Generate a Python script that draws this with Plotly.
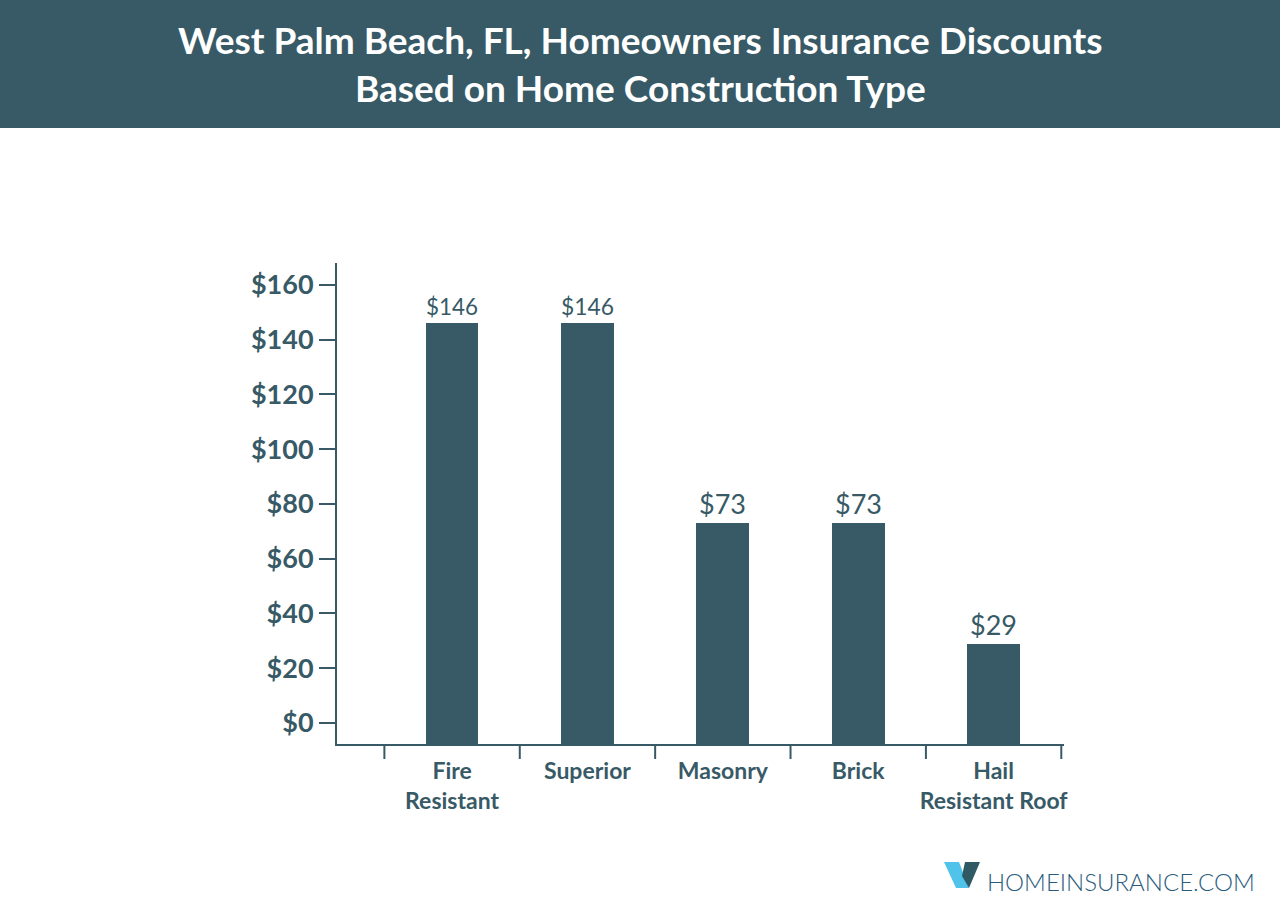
import plotly.graph_objects as go

# ---- data ----
categories = ["Fire<br>Resistant", "Superior", "Masonry", "Brick", "Hail<br>Resistant Roof"]
discounts = [146, 146, 73, 73, 29]
y_tick_values = [0, 20, 40, 60, 80, 100, 120, 140, 160]
y_tick_labels = ["$0", "$20", "$40", "$60", "$80", "$100", "$120", "$140", "$160"]
title_lines = ["West Palm Beach, FL, Homeowners Insurance Discounts",
               "Based on Home Construction Type"]

# ---- style ----
TEAL = "#375a66"
Y_MIN, Y_MAX = -7.7, 168
X_MIN, X_MAX = -0.85, 4.52
W, H = 1280, 904
ML, MR, MT, MB = 337, 216, 263, 160
PW, PH = W - ML - MR, H - MT - MB


def px_x(x):
    return (x - ML) / PW


def px_y(y):
    return 1 - (y - MT) / PH


fig = go.Figure()
fig.add_trace(go.Bar(
    x=list(range(len(categories))),
    y=[v - Y_MIN for v in discounts],
    base=Y_MIN,
    width=0.39,
    marker=dict(color=TEAL, line=dict(width=0)),
    text=[f"${v}" for v in discounts],
    textposition="outside",
    cliponaxis=False,
    textfont=dict(family="Lato", size=27, color=TEAL),
    hoverinfo="skip",
))

fig.update_layout(
    width=W, height=H,
    margin=dict(l=ML, r=MR, t=MT, b=MB),
    paper_bgcolor="white", plot_bgcolor="white",
    showlegend=False,
    bargap=0,
    xaxis=dict(
        range=[X_MIN, X_MAX],
        tickmode="array",
        tickvals=list(range(len(categories))),
        ticktext=categories,
        showgrid=False, zeroline=False,
        showline=True, linecolor=TEAL, linewidth=2,
        ticks="",
        ticklabelstandoff=5,
        tickfont=dict(family="Lato", size=23, color=TEAL, weight="bold"),
        fixedrange=True,
    ),
    yaxis=dict(
        range=[Y_MIN, Y_MAX],
        tickmode="array",
        tickvals=y_tick_values,
        ticktext=y_tick_labels,
        showgrid=False, zeroline=False,
        showline=True, linecolor=TEAL, linewidth=2,
        ticks="outside", ticklen=16, tickwidth=2, tickcolor=TEAL,
        tickfont=dict(family="Lato", size=27, color=TEAL, weight="bold"),
        fixedrange=True,
    ),
)

# x boundary ticks between categories
boundaries = [i - 0.5 for i in range(len(categories) + 1)]
for b in boundaries:
    fig.add_shape(type="line", xref="x", yref="paper",
                  x0=b, x1=b, y0=0, y1=px_y(759),
                  line=dict(color=TEAL, width=2))

# header banner
fig.add_shape(type="rect", xref="paper", yref="paper", layer="below",
              x0=px_x(0), x1=px_x(W), y0=px_y(128), y1=px_y(0),
              fillcolor=TEAL, line=dict(width=0))
fig.add_annotation(xref="paper", yref="paper", x=px_x(640), y=px_y(64),
                   text="<br>".join(title_lines), showarrow=False,
                   xanchor="center", yanchor="middle",
                   font=dict(family="Lato", size=37, color="white", weight="bold"))

# logo
fig.add_shape(type="path", xref="paper", yref="paper",
              path=f"M {px_x(944)} {px_y(862)} L {px_x(959)} {px_y(862)} L {px_x(969)} {px_y(888)} L {px_x(956)} {px_y(888)} Z",
              fillcolor="#4fc3ea", line=dict(width=0))
fig.add_shape(type="path", xref="paper", yref="paper",
              path=f"M {px_x(965)} {px_y(862)} L {px_x(980)} {px_y(862)} L {px_x(969)} {px_y(888)} L {px_x(962)} {px_y(876)} Z",
              fillcolor="#2f5a64", line=dict(width=0))
fig.add_annotation(xref="paper", yref="paper", x=px_x(985), y=px_y(881),
                   text="HOMEINSURANCE.COM", showarrow=False,
                   xanchor="left", yanchor="middle",
                   font=dict(family="Lato", size=24, color="#2b5c7c", weight=300))

fig.write_html("out.html", config={"displayModeBar": False},
               post_script="document.body.style.margin='0';")
